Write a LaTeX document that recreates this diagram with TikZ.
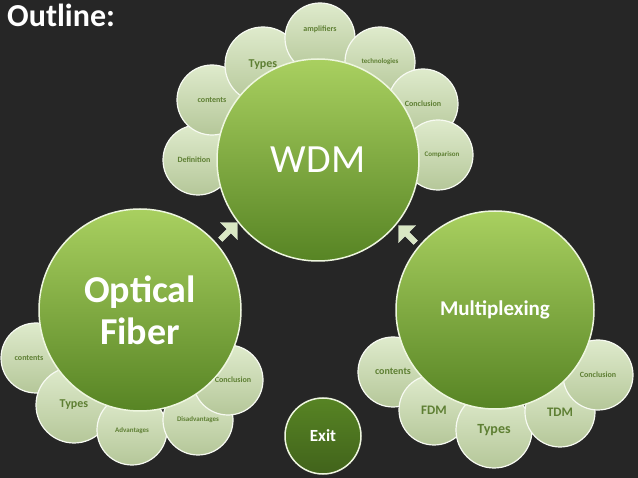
\documentclass[tikz,border=0pt]{standalone}
\usepackage{fontspec}
\setmainfont{Carlito}
\usetikzlibrary{shapes.arrows}
\definecolor{bg}{HTML}{262626}
\definecolor{petal}{HTML}{C9DDAA}
\definecolor{petaltext}{HTML}{5E7F33}
\definecolor{hubtop}{HTML}{A9D060}
\definecolor{hubbot}{HTML}{578424}
\tikzset{
  petal/.style={circle, draw=white!85!petal, line width=1.2pt, top color=white!40!petal, bottom color=petal!90!black,
    text=petaltext, font=\bfseries\fontsize{8}{9}\selectfont, minimum size=#1, inner sep=0pt},
  petal/.default=70pt,
  hub/.style={circle, draw=white!80!hubtop, line width=1.5pt, top color=hubtop, bottom color=hubbot,
    text=white, font=\bfseries, minimum size=#1, inner sep=0pt, align=center},
  pointer/.style={single arrow, fill=white!30!petal, draw=white!60!petal, minimum height=24pt,
    minimum width=24pt, single arrow head extend=4pt, inner sep=1pt}
}
\begin{document}
\begin{tikzpicture}[x=1pt,y=-1pt]
\fill[bg] (0,0) rectangle (638,478);
\useasboundingbox (0,0) rectangle (638,478);
\node[anchor=north west, text=white, font=\bfseries\fontsize{32}{36}\selectfont, inner sep=0pt] (title) at (7,4) {Outline:};

% WDM petals
\node[petal] (wdef) at (198,160) {\hspace*{-8pt}Definition};
\node[petal] (wcon) at (212,100) {contents};
\node[petal=76pt, font=\bfseries\fontsize{12}{14}\selectfont] (wtyp) at (263,65) {Types};
\node[petal] (wamp) at (320,38) {\raisebox{18pt}{amplifiers}};
\node[petal, font=\bfseries\fontsize{7}{8}\selectfont] (wtec) at (380,62) {technologies};
\node[petal] (wclu) at (423,104) {Conclusion};
\node[petal, font=\bfseries\fontsize{7}{8}\selectfont] (wcmp) at (438,155) {\hspace*{8pt}Comparison};
\node[hub=202pt, font=\fontsize{40}{44}\selectfont] (wdm) at (318,160) {WDM};

% Optical fiber petals
\node[petal] (ocon) at (36,358) {\hspace*{-14pt}contents};
\node[petal=76pt, font=\bfseries\fontsize{12}{14}\selectfont] (otyp) at (74,405) {Types};
\node[petal, font=\bfseries\fontsize{7}{8}\selectfont] (oadv) at (132,430) {\raisebox{-6pt}{Advantages}};
\node[petal, font=\bfseries\fontsize{7}{8}\selectfont] (odis) at (198,420) {Disadvantages};
\node[petal] (oclu) at (228,380) {\hspace*{10pt}Conclusion};
\node[hub=202pt, font=\bfseries\fontsize{38}{42}\selectfont] (fib) at (140,310) {Optical\\Fiber};

% Multiplexing petals
\node[petal, font=\bfseries\fontsize{10}{12}\selectfont] (mcon) at (393,372) {\raisebox{2pt}{contents}};
\node[petal, font=\bfseries\fontsize{13}{15}\selectfont] (mfdm) at (434,410) {FDM};
\node[petal=76pt, font=\bfseries\fontsize{14}{16}\selectfont] (mtyp) at (494,430) {Types};
\node[petal, font=\bfseries\fontsize{13}{15}\selectfont] (mtdm) at (560,412) {TDM};
\node[petal] (mclu) at (598,375) {Conclusion};
\node[hub=198pt, font=\bfseries\fontsize{21}{24}\selectfont] (mux) at (495,310) {Multiplexing};

% exit
\node[hub=76pt, bottom color=hubbot!75!black, top color=hubbot, font=\bfseries\fontsize{17}{20}\selectfont] (exit) at (323,436) {Exit};

% pointers
\node[pointer, rotate=45] (pl) at (228,232) {};
\node[pointer, rotate=135] (pr) at (408,235) {};
\end{tikzpicture}
\end{document}
